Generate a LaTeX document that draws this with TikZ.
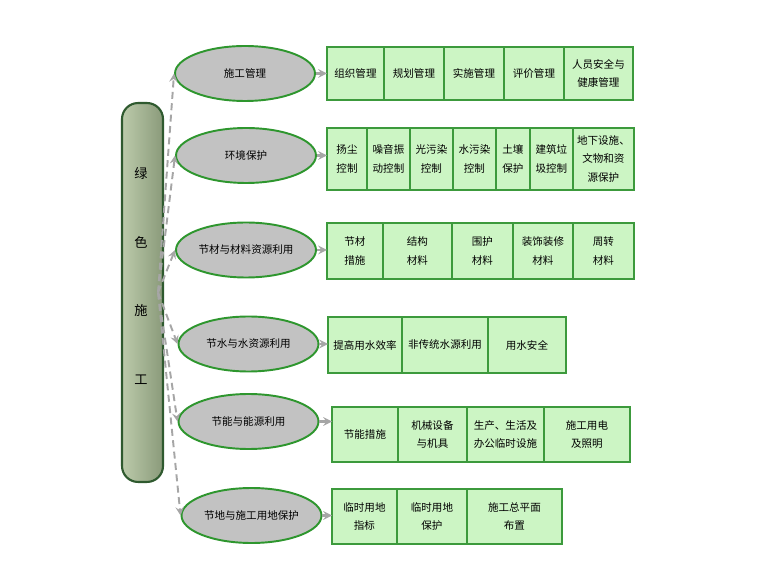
\documentclass[tikz,border=0pt]{standalone}
\usepackage{fontspec}
\setmainfont{Noto Sans CJK SC}
\usetikzlibrary{positioning,shapes.geometric}
\definecolor{cellfill}{HTML}{CCF5C4}
\definecolor{celledge}{HTML}{3C9A3C}
\definecolor{ovalfill}{HTML}{C2C2C2}
\definecolor{ovaledge}{HTML}{2E962E}
\definecolor{pilledge}{HTML}{2F5A2F}
\definecolor{pillleft}{HTML}{BCCBAB}
\definecolor{pillmid}{HTML}{E9F2DF}
\definecolor{pillright}{HTML}{8A9A7A}
\definecolor{linkgray}{HTML}{A6A6A6}

\begin{document}
\begin{tikzpicture}[x=0.02cm,y=-0.02cm,
      every node/.style={font=\fontsize{6}{10.5}\selectfont},
      oval/.style={ellipse,draw=ovaledge,line width=1.1pt,fill=ovalfill,minimum width=2.8cm,minimum height=1.1cm,inner sep=0pt},
      cell/.style={draw=celledge,line width=0.8pt,fill=cellfill,align=center,inner sep=1pt,outer sep=0pt},
      pill/.style={draw=pilledge,line width=1.2pt,rounded corners=0.32cm,minimum width=0.82cm,minimum height=7.58cm,
                   left color=pillleft,middle color=pillmid,right color=pillright},
      link/.style={->,>=stealth,draw=linkgray,line width=1.1pt,dash pattern=on 4pt off 2.5pt},
      feed/.style={->,>=stealth,draw=linkgray,line width=1.2pt}]
    \useasboundingbox (0,0) rectangle (760,570);
    % Left pillar
    \node[pill] (pillar) at (142.5,292.5) {};
    \node[font=\fontsize{7.5}{39}\selectfont,align=center] (pilltext) at (141,276) {绿\\色\\施\\工};
    % Ovals: the six topics
    \node[oval] (e1) at (245,73.5) {施工管理};
    \node[oval] (e2) at (246,155.5) {环境保护};
    \node[oval] (e3) at (246,250) {节材与材料资源利用};
    \node[oval] (e4) at (248.5,344) {节水与水资源利用};
    \node[oval] (e5) at (248.5,421.5) {节能与能源利用};
    \node[oval] (e6) at (251.5,515.5) {节地与施工用地保护};
    % Row 1
    \node[cell,minimum height=1.06cm,minimum width=1.14cm,anchor=west] (c11) at (327,73.5) {组织管理};
    \node[cell,minimum height=1.06cm,minimum width=1.2cm,right=0pt of c11] (c12) {规划管理};
    \node[cell,minimum height=1.06cm,minimum width=1.2cm,right=0pt of c12] (c13) {实施管理};
    \node[cell,minimum height=1.06cm,minimum width=1.2cm,right=0pt of c13] (c14) {评价管理};
    \node[cell,minimum height=1.06cm,minimum width=1.38cm,right=0pt of c14] (c15) {人员安全与\\健康管理};
    % Row 2
    \node[cell,minimum height=1.24cm,minimum width=0.8cm,anchor=west] (c21) at (327,159) {扬尘\\控制};
    \node[cell,minimum height=1.24cm,minimum width=0.86cm,right=0pt of c21] (c22) {噪音振\\动控制};
    \node[cell,minimum height=1.24cm,minimum width=0.86cm,right=0pt of c22] (c23) {光污染\\控制};
    \node[cell,minimum height=1.24cm,minimum width=0.86cm,right=0pt of c23] (c24) {水污染\\控制};
    \node[cell,minimum height=1.24cm,minimum width=0.68cm,right=0pt of c24] (c25) {土壤\\保护};
    \node[cell,minimum height=1.24cm,minimum width=0.86cm,right=0pt of c25] (c26) {建筑垃\\圾控制};
    \node[cell,minimum height=1.24cm,minimum width=1.22cm,right=0pt of c26] (c27) {地下设施、\\文物和资\\源保护};
    % Row 3
    \node[cell,minimum height=1.12cm,minimum width=1.12cm,anchor=west] (c31) at (327,251) {节材\\措施};
    \node[cell,minimum height=1.12cm,minimum width=1.38cm,right=0pt of c31] (c32) {结构\\材料};
    \node[cell,minimum height=1.12cm,minimum width=1.22cm,right=0pt of c32] (c33) {围护\\材料};
    \node[cell,minimum height=1.12cm,minimum width=1.2cm,right=0pt of c33] (c34) {装饰装修\\材料};
    \node[cell,minimum height=1.12cm,minimum width=1.22cm,right=0pt of c34] (c35) {周转\\材料};
    % Row 4
    \node[cell,minimum height=1.12cm,minimum width=1.48cm,anchor=west] (c41) at (328,345) {提高用水效率};
    \node[cell,minimum height=1.12cm,minimum width=1.72cm,right=0pt of c41] (c42) {非传统水源利用};
    \node[cell,minimum height=1.12cm,minimum width=1.56cm,right=0pt of c42] (c43) {用水安全};
    % Row 5
    \node[cell,minimum height=1.1cm,minimum width=1.32cm,anchor=west] (c51) at (332,434.5) {节能措施};
    \node[cell,minimum height=1.1cm,minimum width=1.38cm,right=0pt of c51] (c52) {机械设备\\与机具};
    \node[cell,minimum height=1.1cm,minimum width=1.54cm,right=0pt of c52] (c53) {生产、生活及\\办公临时设施};
    \node[cell,minimum height=1.1cm,minimum width=1.72cm,right=0pt of c53] (c54) {施工用电\\及照明};
    % Row 6
    \node[cell,minimum height=1.1cm,minimum width=1.3cm,anchor=west] (c61) at (332,516.5) {临时用地\\指标};
    \node[cell,minimum height=1.1cm,minimum width=1.4cm,right=0pt of c61] (c62) {临时用地\\保护};
    \node[cell,minimum height=1.1cm,minimum width=1.9cm,right=0pt of c62] (c63) {施工总平面\\布置};
    % Oval -> row arrows
    \draw[feed] (e1.east) -- (e1.east -| c11.west);
    \draw[feed] (e2.east) -- (e2.east -| c21.west);
    \draw[feed] (e3.east) -- (e3.east -| c31.west);
    \draw[feed] (e4.east) -- (e4.east -| c41.west);
    \draw[feed] (e5.east) -- (e5.east -| c51.west);
    \draw[feed] (e6.east) -- (e6.east -| c61.west);
    % Dashed links pillar -> ovals
    \coordinate (hub) at ([xshift=-0.12cm]pillar.east);
    \foreach \e in {e1,e2,e3,e4,e5,e6}
      \draw[link] (hub) -- (\e.west);
  \end{tikzpicture}
\end{document}
